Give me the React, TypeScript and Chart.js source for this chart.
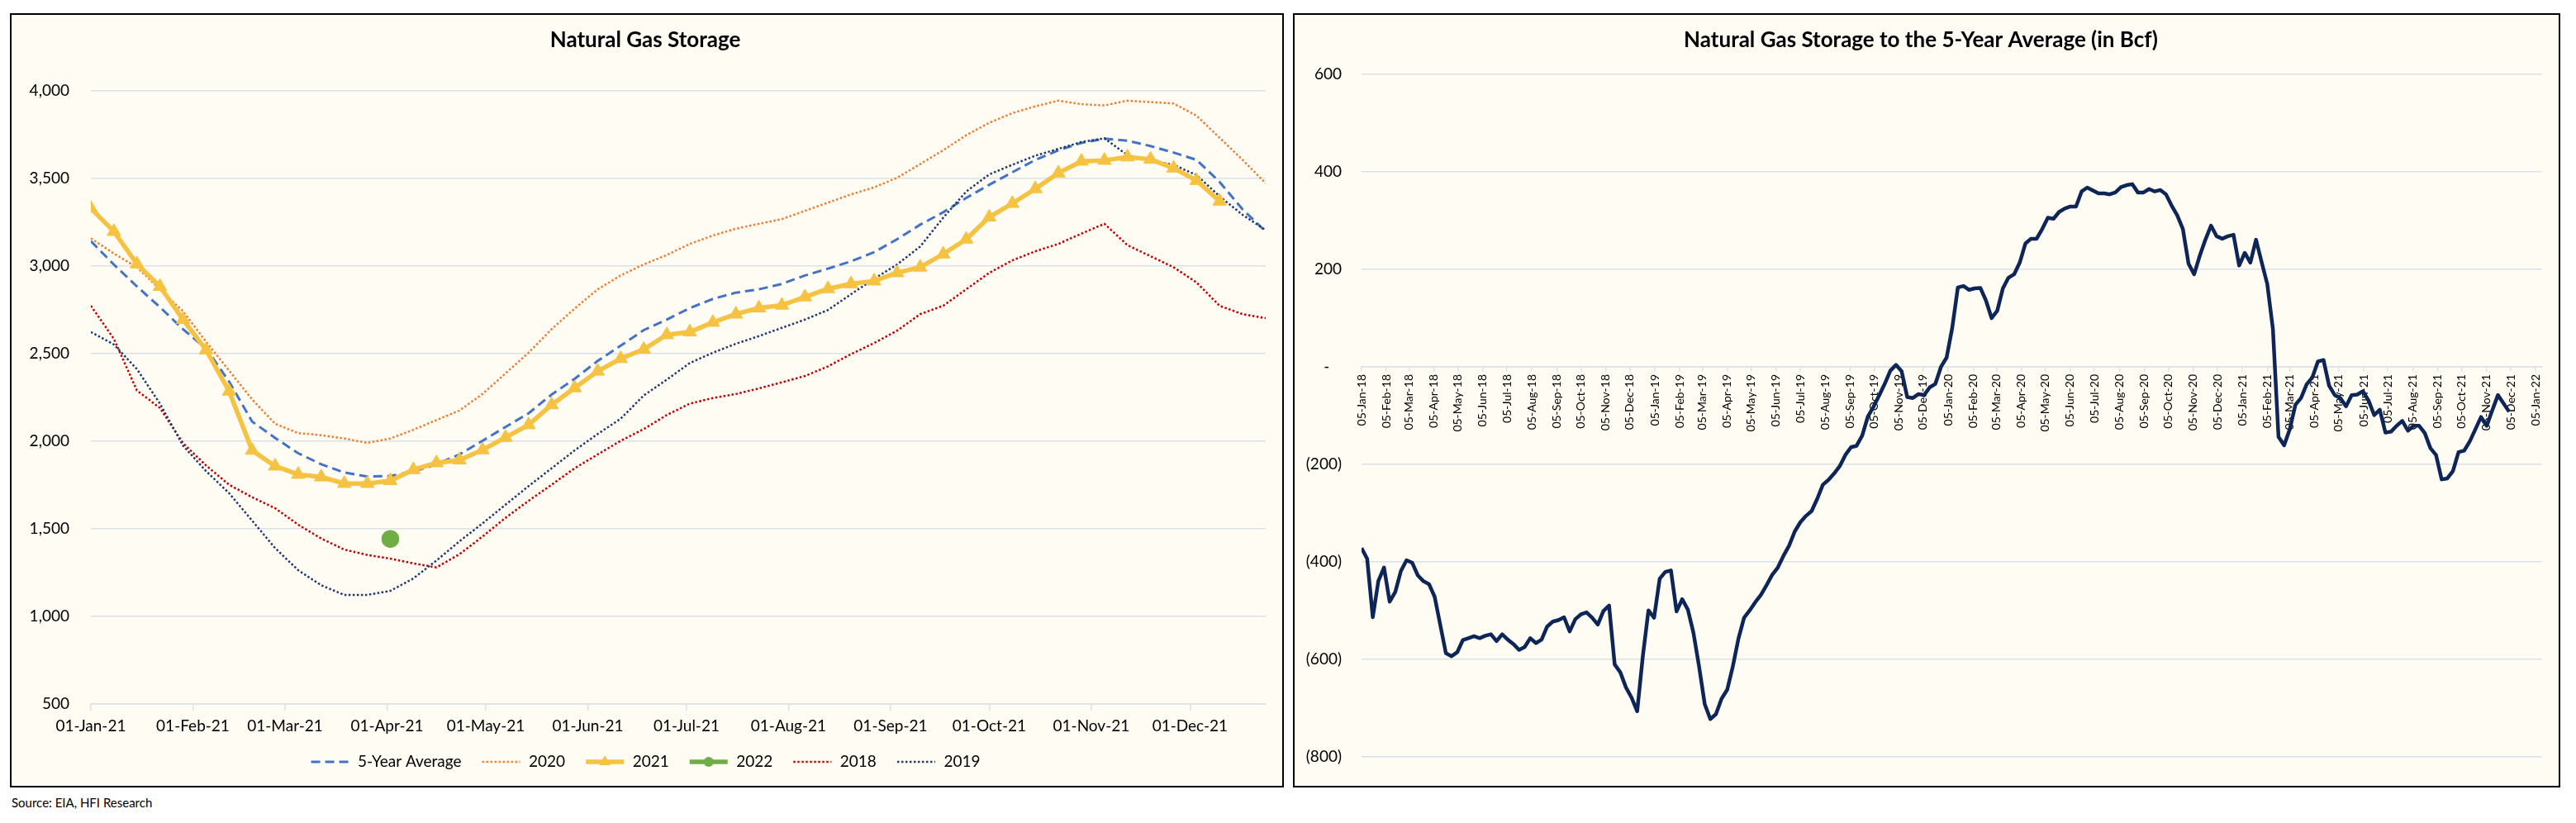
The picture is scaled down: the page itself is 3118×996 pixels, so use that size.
import React, { useEffect, useRef } from 'react';
import { Chart, registerables } from 'chart.js';

Chart.register(...registerables);

const FONT = 'Lato, "Open Sans", sans-serif';
const CREAM = '#FFFCF3';
const GRID = '#DCE0E7';
const INK = '#000000';

Chart.defaults.font.family = FONT;
Chart.defaults.color = INK;

// ---- left chart: weekly working gas in storage (Bcf), weeks from 01-Jan-21 ----
const avg5Year = [
  3143, 3009, 2884, 2766, 2640, 2530, 2341, 2113, 2019, 1932,
  1869, 1822, 1799, 1802, 1827, 1869, 1925, 2003, 2082, 2160,
  2267, 2357, 2459, 2546, 2635, 2695, 2761, 2813, 2849, 2868,
  2899, 2947, 2986, 3028, 3080, 3154, 3237, 3308, 3390, 3465,
  3536, 3607, 3662, 3704, 3728, 3717, 3686, 3649, 3607, 3481,
  3324, 3198,
];
const y2020 = [
  3159, 3072, 2994, 2868, 2742, 2569, 2404, 2239, 2100, 2047,
  2035, 2016, 1991, 2016, 2066, 2121, 2176, 2270, 2388, 2506,
  2640, 2758, 2868, 2947, 3010, 3064, 3127, 3175, 3214, 3242,
  3269, 3316, 3363, 3410, 3450, 3505, 3583, 3662, 3748, 3819,
  3874, 3913, 3945, 3925, 3918, 3945, 3937, 3929, 3859, 3733,
  3607, 3473,
];
const y2021 = [
  3330, 3198, 3013, 2884, 2695, 2522, 2286, 1948, 1858, 1811,
  1796, 1759, 1759, 1775, 1838, 1877, 1893, 1951, 2022, 2094,
  2208, 2305, 2400, 2472, 2525, 2608, 2624, 2679, 2726, 2761,
  2777, 2824, 2871, 2899, 2915, 2962, 2994, 3069, 3154, 3280,
  3358, 3442, 3532, 3599, 3604, 3623, 3610, 3560, 3489, 3371,
];
const y2022 = [
  null, null, null, null, null, null, null, null, null, null,
  null, null, null, 1443,
];
const y2018 = [
  2774, 2585, 2290, 2190, 1990, 1862, 1752, 1681, 1618, 1524,
  1445, 1382, 1351, 1330, 1303, 1280, 1355, 1456, 1563, 1660,
  1752, 1846, 1925, 2003, 2070, 2150, 2215, 2247, 2270, 2302,
  2337, 2373, 2428, 2498, 2561, 2632, 2726, 2774, 2868, 2962,
  3033, 3085, 3127, 3186, 3242, 3120, 3057, 2994, 2907, 2774,
  2726, 2703,
];
const y2019 = [
  2624, 2553, 2412, 2215, 1975, 1830, 1704, 1547, 1390, 1264,
  1178, 1123, 1123, 1146, 1217, 1319, 1429, 1531, 1638, 1744,
  1846, 1948, 2042, 2129, 2262, 2352, 2447, 2506, 2557, 2601,
  2648, 2695, 2750, 2840, 2928, 3010, 3112, 3277, 3426, 3524,
  3579, 3631, 3670, 3709, 3730, 3634, 3602, 3579, 3520, 3399,
  3293, 3206,
];
const storageTicks = [500, 1000, 1500, 2000, 2500, 3000, 3500, 4000];

// ---- right chart: storage minus 5-year average (Bcf), weeks from 05-Jan-18 ----
const vs5Year = [
  -372, -394, -514, -439, -412, -482, -462, -419, -397, -402,
  -428, -440, -446, -472, -530, -588, -594, -586, -561, -557,
  -553, -557, -552, -549, -563, -549, -560, -569, -581, -575,
  -557, -567, -560, -533, -523, -520, -514, -543, -518, -508,
  -504, -515, -529, -501, -490, -611, -627, -658, -679, -707,
  -594, -500, -515, -435, -421, -418, -502, -477, -498, -546,
  -615, -692, -723, -713, -681, -663, -615, -558, -515, -500,
  -483, -468, -448, -427, -412, -388, -367, -338, -319, -306,
  -296, -271, -242, -232, -219, -204, -181, -165, -162, -141,
  -102, -82, -59, -35, -8, 4, -9, -62, -64, -56,
  -58, -42, -35, 0, 19, 80, 163, 166, 158, 161,
  162, 136, 100, 115, 161, 183, 190, 214, 253, 263,
  263, 283, 306, 304, 318, 325, 329, 329, 360, 368,
  362, 356, 356, 354, 358, 369, 373, 375, 358, 358,
  365, 360, 363, 354, 331, 311, 283, 212, 190, 228,
  261, 290, 268, 263, 268, 271, 208, 234, 214, 261,
  215, 170, 78, -144, -161, -128, -78, -64, -36, -22,
  11, 14, -39, -58, -64, -81, -58, -57, -50, -69,
  -99, -88, -135, -133, -121, -111, -131, -121, -121, -136,
  -167, -181, -231, -229, -214, -175, -172, -153, -128, -103,
  -121, -89, -58, -75, -92,
];
const spreadTicks = [-800, -600, -400, -200, 0, 200, 400, 600];

const MONTHS = ['Jan', 'Feb', 'Mar', 'Apr', 'May', 'Jun', 'Jul', 'Aug', 'Sep', 'Oct', 'Nov', 'Dec'];
const DAY_MS = 86400000;

const leftStart = Date.UTC(2021, 0, 1);
const leftTicks = MONTHS.map((m, i) => ({
  day: (Date.UTC(2021, i, 1) - leftStart) / DAY_MS,
  label: `01-${m}-21`,
}));

const rightStart = Date.UTC(2018, 0, 5);
const rightTicks: { day: number; label: string }[] = [];
for (let yr = 2018; yr <= 2022; yr++) {
  for (let m = 0; m < 12; m++) {
    if (yr === 2022 && m > 0) break;
    rightTicks.push({
      day: (Date.UTC(yr, m, 5) - rightStart) / DAY_MS,
      label: `05-${MONTHS[m]}-${String(yr).slice(2)}`,
    });
  }
}

const weekly = (vals: (number | null)[]) => vals.map((v, i) => ({ x: i * 7, y: v }));

const legendSample = (ds: any) => {
  const c = document.createElement('canvas');
  c.width = 48;
  c.height = 22;
  const ctx = c.getContext('2d')!;
  ctx.strokeStyle = ds.borderColor;
  ctx.lineWidth = ds.borderWidth;
  ctx.setLineDash(ds.borderDash || []);
  ctx.beginPath();
  ctx.moveTo(1, 11);
  ctx.lineTo(47, 11);
  ctx.stroke();
  ctx.setLineDash([]);
  ctx.fillStyle = ds.borderColor;
  if (ds.pointStyle === 'triangle') {
    const r = 8;
    ctx.beginPath();
    ctx.moveTo(24, 11 - r);
    ctx.lineTo(24 + r * 0.866, 11 + r * 0.5);
    ctx.lineTo(24 - r * 0.866, 11 + r * 0.5);
    ctx.closePath();
    ctx.fill();
  } else if (ds.pointRadius > 0) {
    ctx.beginPath();
    ctx.arc(24, 11, 6, 0, Math.PI * 2);
    ctx.fill();
  }
  return c;
};

const dotted = { borderWidth: 2.5, borderDash: [2.5, 2.5], pointRadius: 0 };

const StorageChart: React.FC = () => {
  const canvasRef = useRef<HTMLCanvasElement>(null);

  useEffect(() => {
    if (!canvasRef.current) return;
    const chart = new Chart(canvasRef.current, {
      type: 'line',
      data: {
        datasets: [
          { label: '5-Year Average', data: weekly(avg5Year), borderColor: '#4472C4', borderWidth: 3, borderDash: [11, 6], pointRadius: 0, order: 4 },
          { label: '2020', data: weekly(y2020), borderColor: '#ED7D31', ...dotted, order: 5 },
          {
            label: '2021', data: weekly(y2021), borderColor: '#F5C242', backgroundColor: '#F5C242', borderWidth: 5.5,
            pointStyle: 'triangle', pointRadius: 9.5, pointBackgroundColor: '#F5C242', pointBorderColor: '#F5C242', pointBorderWidth: 1, order: 1,
          },
          {
            label: '2022', data: weekly(y2022), borderColor: '#70AD47', backgroundColor: '#70AD47', borderWidth: 5.5,
            pointStyle: 'circle', pointRadius: 8, pointBackgroundColor: '#70AD47', pointBorderColor: '#70AD47', order: 0,
          },
          { label: '2018', data: weekly(y2018), borderColor: '#C00000', ...dotted, order: 3 },
          { label: '2019', data: weekly(y2019), borderColor: '#1F3871', ...dotted, order: 2 },
        ] as any,
      },
      options: {
        animation: false,
        responsive: true,
        maintainAspectRatio: false,
        layout: { padding: { left: 16, right: 20, top: 0, bottom: 9.5 } },
        plugins: {
          title: {
            display: true,
            text: 'Natural Gas Storage',
            color: INK,
            font: { family: FONT, size: 26, weight: 'bold' },
            padding: { top: 15, bottom: 46 },
          },
          legend: {
            position: 'bottom',
            labels: {
              usePointStyle: true,
              pointStyleWidth: 48,
              padding: 24,
              color: INK,
              font: { family: FONT, size: 19 },
              generateLabels: (c: Chart) =>
                c.data.datasets.map((ds: any, i: number) => ({
                  text: ds.label,
                  pointStyle: legendSample(ds),
                  fillStyle: ds.borderColor,
                  strokeStyle: ds.borderColor,
                  lineWidth: 0,
                  fontColor: INK,
                  hidden: false,
                  datasetIndex: i,
                })),
            },
          },
          tooltip: { enabled: false },
        },
        scales: {
          x: {
            type: 'linear',
            min: 0,
            max: 357,
            afterBuildTicks: (s: any) => { s.ticks = leftTicks.map((t) => ({ value: t.day })); },
            afterFit: (s: any) => { s.height = 36.5; },
            ticks: {
              autoSkip: false,
              maxRotation: 0,
              minRotation: 0,
              padding: 7,
              color: INK,
              font: { family: FONT, size: 19 },
              callback: (_v: any, i: number) => leftTicks[i]?.label ?? '',
            },
            grid: { drawOnChartArea: false, tickLength: 8, color: GRID, lineWidth: 1.5 },
            border: { color: GRID, width: 1.5 },
          },
          y: {
            min: 500,
            max: 4000,
            afterBuildTicks: (s: any) => { s.ticks = storageTicks.map((v) => ({ value: v })); },
            afterFit: (s: any) => { s.width = 80; },
            ticks: {
              padding: 26,
              color: INK,
              font: { family: FONT, size: 19 },
              callback: (v: any) => Number(v).toLocaleString('en-US'),
            },
            grid: { color: GRID, lineWidth: 1.5, drawTicks: false },
            border: { display: false },
          },
        },
      } as any,
    });
    return () => { chart.destroy(); };
  }, []);

  return (
    <div style={{ position: 'relative', width: '100%', height: '100%' }}>
      <canvas ref={canvasRef} />
    </div>
  );
};

// accounting style: zero as a dash, negatives in brackets
const formatSpread = (v: number) => {
  if (v === 0) return '-   ';
  if (v < 0) return `(${Math.abs(v)})`;
  return String(v);
};

const SpreadChart: React.FC = () => {
  const canvasRef = useRef<HTMLCanvasElement>(null);

  useEffect(() => {
    if (!canvasRef.current) return;
    const chart = new Chart(canvasRef.current, {
      type: 'line',
      data: {
        datasets: [{
          label: 'Storage vs 5-Year Average',
          data: weekly(vs5Year),
          borderColor: '#0E2557',
          borderWidth: 4.5,
          pointRadius: 0,
          borderJoinStyle: 'round',
        }],
      },
      options: {
        animation: false,
        responsive: true,
        maintainAspectRatio: false,
        layout: { padding: { left: 6, right: 20, top: 0, bottom: 22 } },
        plugins: {
          title: {
            display: true,
            text: 'Natural Gas Storage to the 5-Year Average (in Bcf)',
            color: INK,
            font: { family: FONT, size: 26, weight: 'bold' },
            padding: { top: 15, bottom: 26 },
          },
          legend: { display: false },
          tooltip: { enabled: false },
        },
        scales: {
          x: {
            type: 'linear',
            position: { y: 0 },
            min: 0,
            max: 1469,
            afterBuildTicks: (s: any) => { s.ticks = rightTicks.map((t) => ({ value: t.day })); },
            ticks: {
              autoSkip: false,
              maxRotation: 90,
              minRotation: 90,
              padding: 4,
              color: INK,
              font: { family: FONT, size: 14 },
              callback: (_v: any, i: number) => rightTicks[i]?.label ?? '',
            },
            grid: { drawOnChartArea: false, tickLength: 5, color: GRID, lineWidth: 1.5 },
            border: { color: GRID, width: 1.5 },
          },
          y: {
            min: -800,
            max: 600,
            afterBuildTicks: (s: any) => { s.ticks = spreadTicks.map((v) => ({ value: v })); },
            afterFit: (s: any) => { s.width = 75; },
            ticks: {
              padding: 24,
              color: INK,
              font: { family: FONT, size: 19 },
              callback: (v: any) => formatSpread(Number(v)),
            },
            grid: { color: GRID, lineWidth: 1.5, drawTicks: false },
            border: { display: false },
          },
        },
      } as any,
    });
    return () => { chart.destroy(); };
  }, []);

  return (
    <div style={{ position: 'relative', width: '100%', height: '100%' }}>
      <canvas ref={canvasRef} />
    </div>
  );
};

const panel: React.CSSProperties = {
  position: 'absolute',
  top: 16,
  height: 937,
  boxSizing: 'border-box',
  border: '2px solid #000',
  background: CREAM,
};

export default function App() {
  return (
    <div style={{ position: 'absolute', left: 0, top: 0, width: 3118, height: 996, background: '#fff', fontFamily: FONT }}>
      <div style={{ ...panel, left: 12, width: 1542 }}>
        <StorageChart />
      </div>
      <div style={{ ...panel, left: 1565, width: 1534 }}>
        <SpreadChart />
      </div>
      <div style={{ position: 'absolute', left: 14, top: 962, fontSize: 15, lineHeight: '18px', color: '#000' }}>
        Source: EIA, HFI Research
      </div>
    </div>
  );
}
